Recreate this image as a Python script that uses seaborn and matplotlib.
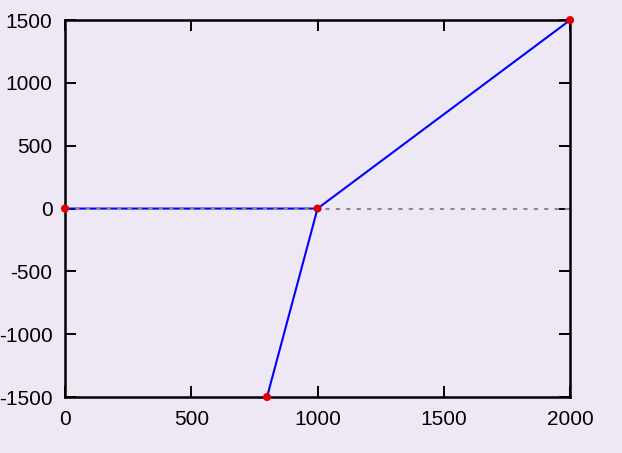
import matplotlib
matplotlib.use("Agg")
import matplotlib.pyplot as plt
import seaborn as sns

# Data points and line segments
point_x = [0, 1000, 2000, 800]
point_y = [0, 0, 1500, -1500]

seg1_x = [0, 1000, 2000]
seg1_y = [0, 0, 1500]
seg2_x = [800, 1000]
seg2_y = [-1500, 0]

x_ticks = [0, 500, 1000, 1500, 2000]
y_ticks = [-1500, -1000, -500, 0, 500, 1000, 1500]

sns.set_style("white")
plt.rcParams['font.family'] = ['Liberation Sans', 'DejaVu Sans']
plt.rcParams['axes.unicode_minus'] = False

bg = "#EEE8F4"
fig = plt.figure(figsize=(6.22, 4.53), dpi=100, facecolor=bg)
ax = fig.add_axes([0.1045, 0.1236, 0.812, 0.832])
ax.set_facecolor(bg)

sns.lineplot(x=seg1_x, y=seg1_y, color="blue", lw=1.5, ax=ax, sort=False, estimator=None)
sns.lineplot(x=seg2_x, y=seg2_y, color="blue", lw=1.5, ax=ax, sort=False, estimator=None)

# zero axis, drawn over the lines
ax.plot([0, 2000], [0, 0], color="#8a8a8a", lw=1.5, ls=(0, (2, 3)), zorder=3)

sns.scatterplot(x=point_x, y=point_y, color="#E00000", s=34, edgecolor="none",
                ax=ax, zorder=4, clip_on=False)

ax.set_xlim(0, 2000)
ax.set_ylim(-1500, 1500)
ax.set_xticks(x_ticks)
ax.set_yticks(y_ticks)
ax.tick_params(direction="in", length=8, width=1.4, bottom=True, left=True,
               top=True, right=True, labelsize=15, colors="black")
ax.tick_params(axis="x", pad=9)
ax.tick_params(axis="y", pad=9)
for s in ax.spines.values():
    s.set_linewidth(1.8)
    s.set_color("black")

fig.savefig("out.png", dpi=100, facecolor=bg)
